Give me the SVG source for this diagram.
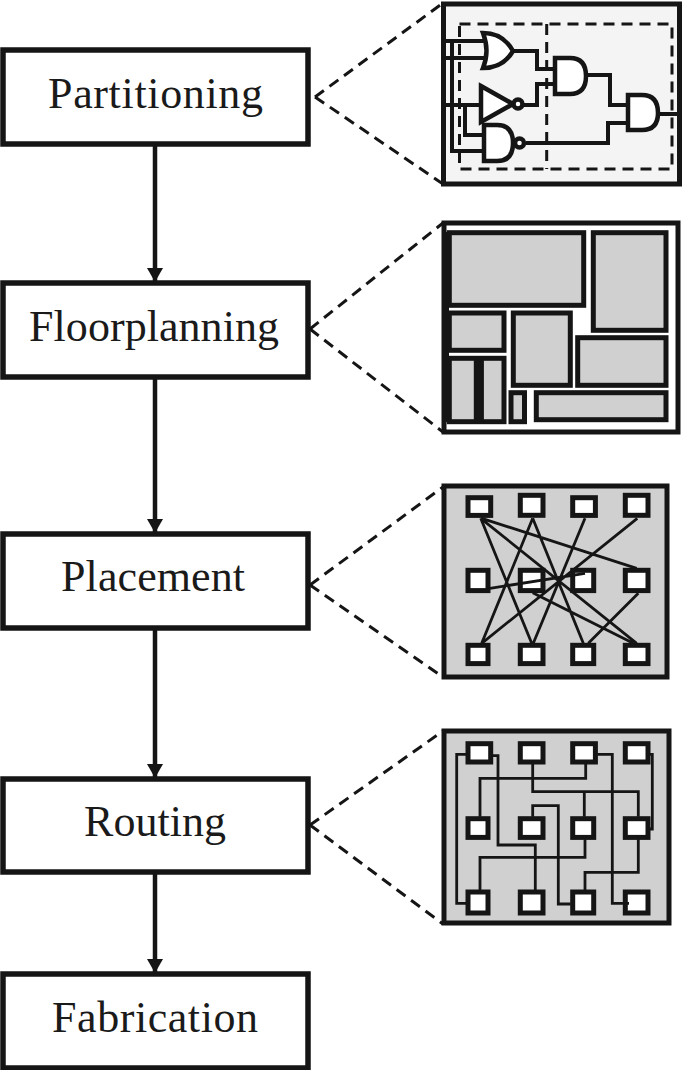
<svg xmlns="http://www.w3.org/2000/svg" width="685" height="1070" viewBox="0 0 685 1070">
<style>
.box{fill:#fff;stroke:#151515;stroke-width:5.5}
.lbl{font-family:"Liberation Serif","Times New Roman",serif;font-size:44px;fill:#1a1a1a}
.flow{fill:none;stroke:#151515;stroke-width:4.5}
.dash{fill:none;stroke:#151515;stroke-width:3;stroke-dasharray:11 7}
.frame{stroke:#151515;stroke-width:5}
.w{fill:none;stroke:#151515;stroke-width:4;stroke-linejoin:miter}
.g{fill:#fff;stroke:#151515;stroke-width:4.5}
.b{fill:#d0d0d0;stroke:#151515;stroke-width:5}
.p{fill:#fff;stroke:#151515;stroke-width:5}
.n{fill:none;stroke:#151515;stroke-width:2.8}
</style>
<defs>
<marker id="arrow" markerUnits="userSpaceOnUse" markerWidth="15" markerHeight="16" refX="14" refY="8" orient="auto"><path d="M0 0L14 8L0 16Z" fill="#151515"/></marker>
</defs>
<rect width="685" height="1070" fill="#fff"/>
<g id="connectors">
<line class="flow" x1="155" y1="146" x2="155" y2="282" marker-end="url(#arrow)"/>
<line class="flow" x1="155" y1="379" x2="155" y2="533" marker-end="url(#arrow)"/>
<line class="flow" x1="155" y1="630" x2="155" y2="778" marker-end="url(#arrow)"/>
<line class="flow" x1="155" y1="874" x2="155" y2="973" marker-end="url(#arrow)"/>
<path class="dash" d="M315 97L443 3M315 97L443 184"/>
<path class="dash" d="M310 329L443 223M310 329L443 432"/>
<path class="dash" d="M310 585L443 487M310 585L443 677"/>
<path class="dash" d="M310 825L443 731M310 825L443 924"/>
</g>
<g id="partitioning"><rect class="box" x="3" y="50" width="305" height="94"/><text class="lbl" x="48" y="108" textLength="215">Partitioning</text></g>
<g id="floorplanning"><rect class="box" x="3" y="283" width="305" height="94"/><text class="lbl" x="29" y="341" textLength="250">Floorplanning</text></g>
<g id="placement"><rect class="box" x="3" y="534" width="305" height="94"/><text class="lbl" x="61" y="591" textLength="184">Placement</text></g>
<g id="routing"><rect class="box" x="3" y="779" width="305" height="93"/><text class="lbl" x="84" y="836" textLength="142">Routing</text></g>
<g id="fabrication"><rect class="box" x="3" y="974" width="305" height="94"/><text class="lbl" x="52" y="1032" textLength="206">Fabrication</text></g>
<g id="partitioning-detail">
<rect class="frame" x="443.5" y="4" width="236" height="180" fill="#f4f4f4"/>
<path class="dash" stroke-dasharray="9 6" d="M459.5 24H672V169H459.5ZM546.7 24V169"/>
<path class="w" d="M443 41H485M443 58H485M452 41V151H485M443 105H483M465 105V135H485M513 51H537V69H556M522 105H537V84H556M585 75H610V105H630M526 143H608V123H630M656 114H680"/>
<path class="g" d="M483 33Q503 33 513 51Q503 68 483 68Q490 51 483 33Z"/>
<path class="g" d="M555 58H570Q586 58 586 76Q586 94 570 94H555Z"/>
<path class="g" d="M628 95H642Q658 95 658 113Q658 130 642 130H628Z"/>
<path class="g" d="M481 86L513 104L481 122Z"/>
<circle class="g" cx="518" cy="104" r="4.5"/>
<path class="g" d="M484 125H497Q513 125 513 143Q513 161 497 161H484Z"/>
<circle class="g" cx="519.5" cy="143" r="4.5"/>
</g>
<g id="floorplanning-detail">
<rect class="frame" x="444" y="223" width="234" height="209" fill="#fff"/>
<rect x="443" y="232" width="6" height="190" fill="#151515"/>
<rect class="b" x="449.3" y="232.7" width="134.4" height="72.6"/>
<rect class="b" x="593.3" y="232.7" width="72.7" height="97.6"/>
<rect class="b" x="449.3" y="313" width="54.7" height="37.3"/>
<rect class="b" x="513.3" y="313" width="57" height="72.3"/>
<rect class="b" x="577.7" y="337.7" width="88.3" height="47.6"/>
<rect class="b" x="449.3" y="358.3" width="27" height="63.4"/>
<rect class="b" x="481.3" y="358.3" width="22.7" height="63.4"/>
<rect x="474" y="356" width="9.5" height="68" fill="#151515"/>
<rect class="b" x="511" y="392.7" width="13.5" height="29"/>
<rect class="b" x="536.3" y="392.7" width="129.7" height="27"/>
</g>
<g id="placement-detail">
<rect class="frame" x="444" y="486" width="223" height="191" fill="#d0d0d0"/>
<rect class="p" x="468" y="497.7" width="22.7" height="17.7"/>
<rect class="p" x="520.3" y="495.3" width="22.7" height="20"/>
<rect class="p" x="572.7" y="497.7" width="22.7" height="17.7"/>
<rect class="p" x="625.3" y="495.3" width="22.7" height="20"/>
<rect class="p" x="468" y="570.3" width="20" height="20.3"/>
<rect class="p" x="520.3" y="570.3" width="22.7" height="20.3"/>
<rect class="p" x="572.7" y="570.3" width="21" height="20.3"/>
<rect class="p" x="625.3" y="570.3" width="22.7" height="20.3"/>
<rect class="p" x="468" y="645.3" width="20" height="18.3"/>
<rect class="p" x="520.3" y="645.3" width="22.7" height="18.3"/>
<rect class="p" x="572.7" y="645.3" width="21" height="18.3"/>
<rect class="p" x="625.3" y="645.3" width="22.7" height="18.3"/>
<path class="n" d="M480.7 518.3L531.7 643.3M480.7 518.3L636.7 643.3M481.7 518.3L636.7 568.3M532.7 518.3L481.7 643.3M532.7 518.3L583.3 643.3M585 518.3L533.3 643.3M637.3 518.3L481.7 643.3M490 588.3L585 573.3M532.7 592.7L633.3 643.3M638.3 593.3L588.3 643.3"/>
</g>
<g id="routing-detail">
<rect class="frame" x="444" y="731" width="225" height="192" fill="#d0d0d0"/>
<rect class="p" x="468" y="743.7" width="22.7" height="18.3"/>
<rect class="p" x="520.3" y="743.7" width="22.7" height="18.3"/>
<rect class="p" x="572.7" y="743.7" width="22.7" height="18.3"/>
<rect class="p" x="625.3" y="743.7" width="22.7" height="18.3"/>
<rect class="p" x="468" y="818.7" width="20" height="18.7"/>
<rect class="p" x="520.3" y="818.7" width="22.7" height="18.7"/>
<rect class="p" x="572.7" y="818.7" width="21" height="18.7"/>
<rect class="p" x="625.3" y="818.7" width="22.7" height="18.7"/>
<rect class="p" x="468" y="892" width="20" height="21"/>
<rect class="p" x="520.3" y="892" width="22.7" height="21"/>
<rect class="p" x="572.7" y="892" width="21" height="21"/>
<rect class="p" x="625.3" y="892" width="22.7" height="21"/>
<path class="n" d="M470 754.3H456.7V903.3H470M492.7 755.7H498V845H535.3V890M532.7 764V791.7H638.3V816.7M584.3 791.7V816.7M585.7 764V778.3H480V816.7M597.3 754.3H612.3V903.3H629M650 754.3H652.3V829H650M532.7 816.7V805.7H558.3V904H570.7M585 839.3V857.3H480V890M638.3 839.3V872.3H585V890"/>
</g>
</svg>
